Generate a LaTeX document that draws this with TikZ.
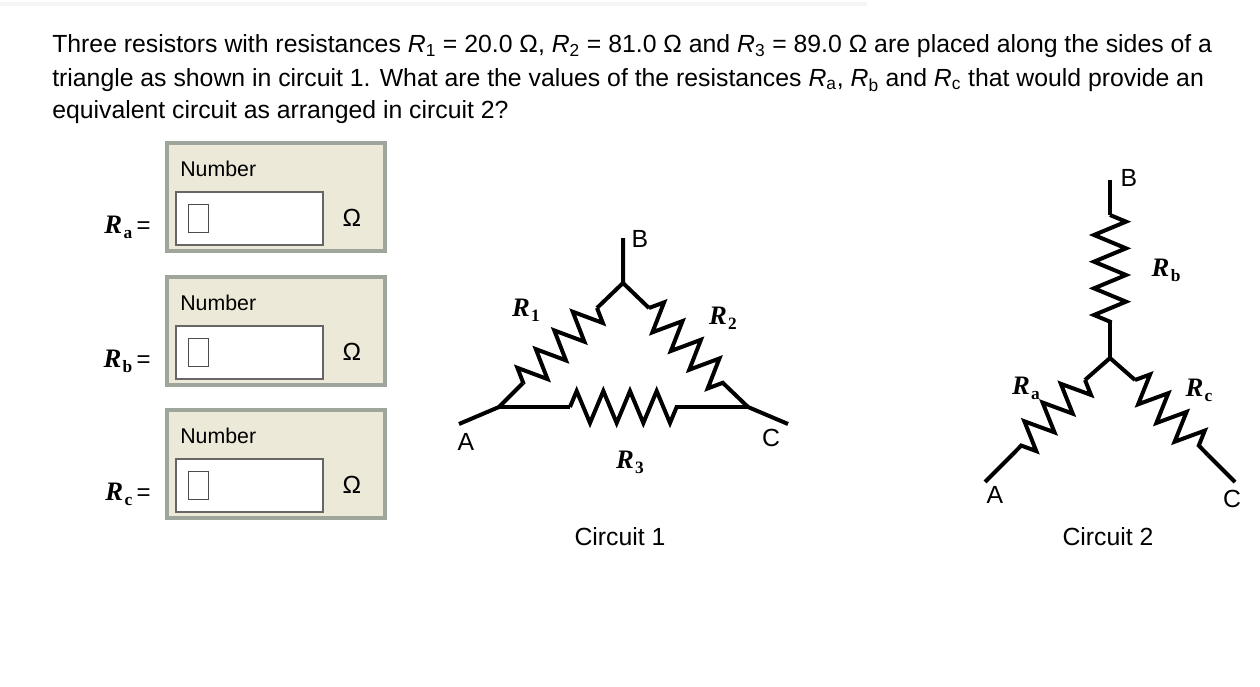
\documentclass[tikz,border=0pt]{standalone}
\usepackage{fontspec}
\setmainfont{Liberation Sans}
\newfontfamily\rfont{Liberation Serif}
\usetikzlibrary{decorations.pathmorphing}
\newcommand{\RR}[1]{{\rfont\bfseries\itshape R\kern1pt\raisebox{-0.4ex}{\upshape\fontsize{13}{13}\selectfont #1}}}
\begin{document}
\begin{tikzpicture}[x=0.75pt,y=-0.75pt,
  txt/.style={font=\fontsize{18.6}{20}\selectfont,inner sep=0},
  lab/.style={font=\fontsize{20}{20}\selectfont,inner sep=0},
  wire/.style={line width=3pt,line join=miter,line cap=butt},
  res/.style 2 args={wire,decorate,decoration={zigzag,segment length=#1,amplitude=#2,pre length=0pt,post length=0pt}},
  box/.style={fill=boxbg,draw=boxbd,line width=3pt},
  field/.style={fill=white,draw=black!60,line width=0.8pt}]
\definecolor{boxbg}{HTML}{ECE9D8}
\definecolor{boxbd}{HTML}{9EA59A}
\useasboundingbox (0,0) rectangle (1260,686);
\fill[black!4] (0,2) rectangle (867,6);
\node[txt,anchor=west] (l1) at (52,46) {Three resistors with resistances \textit{R}\textsubscript{1} = 20.0 Ω, \textit{R}\textsubscript{2} = 81.0 Ω and \textit{R}\textsubscript{3} = 89.0 Ω are placed along the sides of a};
\node[txt,anchor=west] (l2) at (52,80) {triangle as shown in circuit 1. What are the values of the resistances \textit{R}\textsubscript{a}, \textit{R}\textsubscript{b} and \textit{R}\textsubscript{c} that would provide an};
\node[txt,anchor=west] (l3) at (52,112) {equivalent circuit as arranged in circuit 2?};
% answer boxes
\foreach \n/\t/\s in {a/143/a,b/277/b,c/410/c}{
  \draw[box] (167,\t) rectangle (385,\t+108);
  \node[txt,anchor=west,font=\fontsize{16}{16}\selectfont] (num\n) at (180,\t+26) {Number};
  \draw[field] (176,\t+49) rectangle (323,\t+102);
  \draw[black!70,line width=0.6pt] (188,\t+61) rectangle (208,\t+89);
  \node[txt] (om\n) at (352,\t+75) {Ω};
  \node[lab,anchor=east] (lab\n) at (151,\t+84) {\RR{\s}\,{\fontsize{18}{18}\selectfont=}};
}
% circuit 1
\coordinate (Bt) at (623,238); \coordinate (Bj) at (623,283);
\coordinate (Lc) at (499,407); \coordinate (Ae) at (459,424);
\coordinate (Rc) at (748,407); \coordinate (Ce) at (788,424);
\coordinate (l1s) at (597,308); \coordinate (l1e) at (523,383);
\coordinate (r2s) at (649,308); \coordinate (r2e) at (723,383);
\coordinate (b3s) at (570,407); \coordinate (b3e) at (677,407);
\draw[wire] (Bt)--(Bj)--(l1s); \draw[res={19.7pt}{11pt}] (l1s)--(l1e); \draw[wire] (l1e)--(Lc)--(Ae);
\draw[wire] (Bj)--(r2s); \draw[res={19.7pt}{11pt}] (r2s)--(r2e); \draw[wire] (r2e)--(Rc)--(Ce);
\draw[wire] (Lc)--(b3s); \draw[res={20pt}{12pt}] (b3s)--(b3e); \draw[wire] (b3e)--(Rc);
\node[txt] (tB1) at (640,239) {B};
\node[txt] (tA1) at (466,442) {A};
\node[txt] (tC1) at (771,438) {C};
\node[lab] (tR1) at (526,310) {\RR{1}};
\node[lab] (tR2) at (723,318) {\RR{2}};
\node[lab] (tR3) at (630,462) {\RR{3}};
\node[txt] (c1) at (620,537) {Circuit 1};
% circuit 2
\coordinate (B2) at (1110,180); \coordinate (b2s) at (1110,215);
\coordinate (b2e) at (1110,322); \coordinate (J) at (1110,358);
\coordinate (a2s) at (1085,380); \coordinate (a2e) at (1012,455);
\coordinate (A2) at (985,482);
\coordinate (c2s) at (1135,380); \coordinate (c2e) at (1208,455);
\coordinate (C2) at (1235,482);
\draw[wire] (B2)--(b2s); \draw[res={20pt}{12pt}] (b2s)--(b2e); \draw[wire] (b2e)--(J);
\draw[wire] (J)--(a2s); \draw[res={19.6pt}{11pt}] (a2s)--(a2e); \draw[wire] (a2e)--(A2);
\draw[wire] (J)--(c2s); \draw[res={19.6pt}{11pt}] (c2s)--(c2e); \draw[wire] (c2e)--(C2);
\node[txt] (tB2) at (1129,178) {B};
\node[txt] (tA2) at (995,495) {A};
\node[txt] (tC2) at (1232,499) {C};
\node[lab] (tRb) at (1166,270) {\RR{b}};
\node[lab] (tRa) at (1026,388) {\RR{a}};
\node[lab] (tRc) at (1199,390) {\RR{c}};
\node[txt] (c2) at (1108,537) {Circuit 2};
\end{tikzpicture}
\end{document}
